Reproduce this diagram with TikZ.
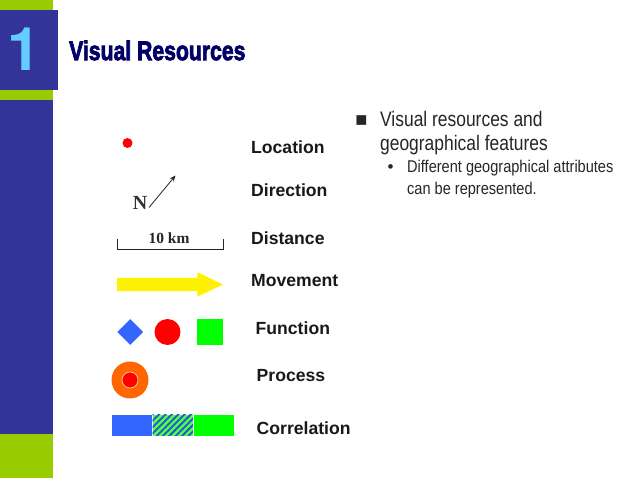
\documentclass[tikz,border=0pt]{standalone}
\usepackage{fontspec}
\setmainfont{Liberation Sans}
\newfontfamily\serifbold{Liberation Serif Bold}
\newfontfamily\titlefont[FakeBold=3]{Liberation Sans Bold}
\newfontfamily\numfont{TeX Gyre Heros Bold}
\usetikzlibrary{arrows.meta,patterns.meta,positioning,shapes.arrows,shapes.geometric}
\definecolor{sidebar}{HTML}{333399}
\definecolor{leaf}{HTML}{99CC00}
\definecolor{navy}{HTML}{000066}
\definecolor{sky}{HTML}{66CCFF}
\definecolor{myblue}{HTML}{3366FF}
\definecolor{mygreen}{HTML}{00FF00}
\definecolor{myred}{HTML}{FF0000}
\definecolor{myorange}{HTML}{FF6600}
\tikzset{%
  legend/.style={anchor=west,inner sep=0pt,font=\fontsize{17.6}{20}\selectfont\bfseries,text=black!90},
  symbol/.style={inner sep=0pt,draw=none},
  mainline/.style={anchor=base west,inner sep=0pt,xscale=0.83,font=\fontsize{21}{24}\selectfont,text=black!85},
  subline/.style={anchor=base west,inner sep=0pt,xscale=0.857,font=\fontsize{17}{20}\selectfont,text=black!85},
}
\begin{document}
\begin{tikzpicture}[x=1pt,y=-1pt]
      \useasboundingbox (0,0) rectangle (638,478);
      \fill[white] (0,0) rectangle (638,478);

      % side bar
      \fill[leaf] (0,0) rectangle (53,478);
      \fill[sidebar] (0,100) rectangle (53,434);
      \fill[sidebar] (0,10) rectangle (58,90);
      \node[inner sep=0pt,font=\fontsize{60}{60}\numfont,text=sky] (num) at (24.5,49.5) {1};

      \node[anchor=west,inner sep=0pt,xscale=0.785,font=\fontsize{27}{30}\titlefont,text=navy] (title) at (69,50.5) {Visual Resources};

      % symbols
      \node[symbol,circle,minimum size=10pt,fill=myred] (dot) at (127.5,143) {};
      \node[inner sep=0pt,font=\fontsize{20}{20}\serifbold,text=black!80] (north) at (140,203) {N};
      \coordinate (tip) at (175.5,175.5);
      \draw[-{Stealth[length=6pt,width=5pt]},black!85,line width=0.8pt] (149,207.5) -- (tip);

      \coordinate (barl) at (117,239);
      \coordinate (barr) at (223,239);
      \draw[black!85,line width=0.8pt] (barl) -- ++(0,10) -| (barr);
      \node[inner sep=0pt,font=\fontsize{15.5}{16}\serifbold,text=black!85] (km) at (169,238) {10 km};

      \node[symbol,single arrow,fill=yellow,inner sep=6.5pt,minimum height=106pt,single arrow head extend=5.5pt,single arrow tip angle=51] (move) at (163,284.5) {};

      \node[symbol,diamond,minimum size=26pt,fill=myblue] (fndiamond) at (130.3,332) {};
      \node[symbol,circle,minimum size=26pt,fill=myred] (fncircle) at (167.5,332) {};
      \node[symbol,minimum size=26pt,fill=mygreen] (fnsquare) at (210,332) {};

      \node[symbol,circle,minimum size=37pt,fill=myorange] (outer) at (130,380) {};
      \node[symbol,circle,minimum size=16pt,fill=myred,draw=orange!40,line width=0.7pt] (inner) at (130,380) {};

      \fill[myblue] (112,415) rectangle (152,436);
      \fill[mygreen!70!white] (152.5,415) rectangle (193,436);
      \fill[pattern={Lines[angle=45,distance=4.5pt,line width=1.8pt]},pattern color=myblue!80!black] (152.5,415) rectangle (193,436);
      \fill[mygreen] (193.5,415) rectangle (234,436);

      % legend
      \node[legend] (location) at (251,147.5) {Location};
      \node[legend] (direction) at (251,190) {Direction};
      \node[legend] (distance) at (251,238) {Distance};
      \node[legend] (movement) at (251,281) {Movement};
      \node[legend] (function) at (255.5,328.5) {Function};
      \node[legend] (process) at (256.5,376) {Process};
      \node[legend] (correlation) at (256.5,428.5) {Correlation};

      % text
      \node[inner sep=0pt,font=\fontsize{20}{20}\selectfont,text=black!85] (mark) at (361.5,121) {■};
      \node[mainline] (one) at (380,126.5) {Visual resources and};
      \node[mainline] (two) at (380,150.5) {geographical features};
      \node[inner sep=0pt,font=\fontsize{17}{20}\selectfont,text=black!85] (dotb) at (390.5,169) {•};
      \node[subline] (three) at (407,173) {Different geographical attributes};
      \node[subline] (four) at (407,195) {can be represented.};
\end{tikzpicture}
\end{document}
